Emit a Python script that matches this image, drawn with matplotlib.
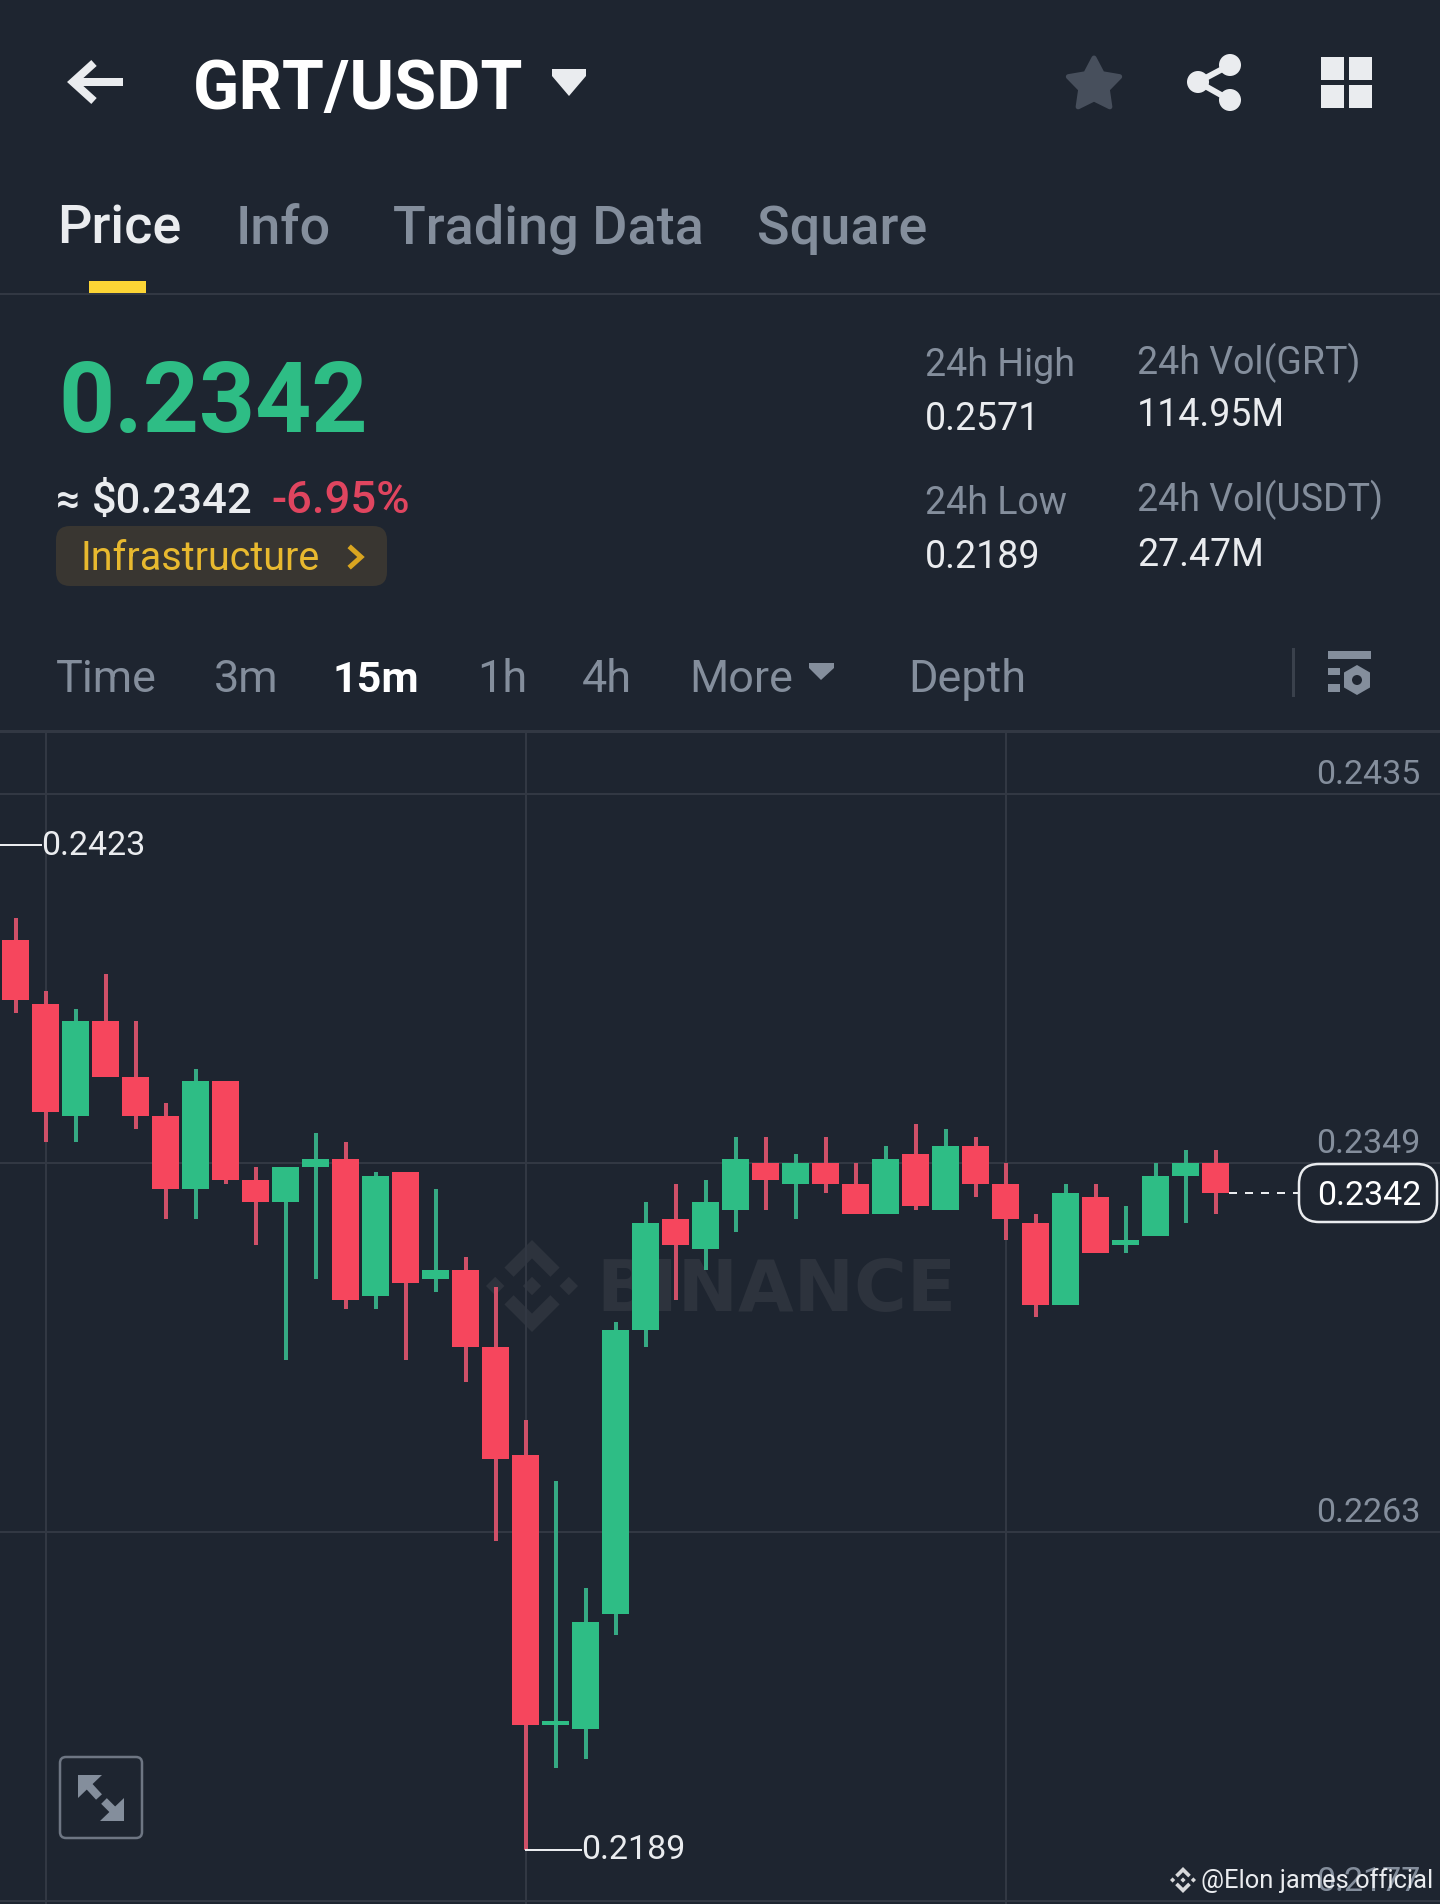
# GRT/USDT 15m candle screen from the exchange app
import math
import matplotlib
matplotlib.use('Agg')
import matplotlib.pyplot as plt
from matplotlib.patches import Circle, FancyBboxPatch, Polygon, Rectangle

# candle data
opens = [0.2401, 0.2386, 0.2360, 0.2382, 0.2369, 0.2360, 0.2343, 0.2368, 0.2345, 0.2340, 0.2348,
         0.2350, 0.2318, 0.2347, 0.2322, 0.2324, 0.2306, 0.2281, 0.2218, 0.2217, 0.2244, 0.2310,
         0.2336, 0.2329, 0.2338, 0.2349, 0.2344, 0.2349, 0.2344, 0.2337, 0.2351, 0.2338, 0.2353,
         0.2344, 0.2335, 0.2316, 0.2341, 0.2330, 0.2332, 0.2346, 0.2349]
closes = [0.2387, 0.2361, 0.2382, 0.2369, 0.2360, 0.2343, 0.2368, 0.2345, 0.2340, 0.2348, 0.2350,
          0.2317, 0.2346, 0.2321, 0.2324, 0.2306, 0.2280, 0.2218, 0.2219, 0.2242, 0.2310, 0.2335,
          0.2330, 0.2340, 0.2350, 0.2345, 0.2349, 0.2344, 0.2337, 0.2350, 0.2339, 0.2353, 0.2344,
          0.2336, 0.2316, 0.2342, 0.2328, 0.2331, 0.2346, 0.2349, 0.2342]
highs = [0.2406, 0.2389, 0.2385, 0.2393, 0.2382, 0.2363, 0.2371, 0.2368, 0.2348, 0.2348, 0.2356,
         0.2354, 0.2347, 0.2347, 0.2343, 0.2327, 0.2320, 0.2289, 0.2275, 0.2250, 0.2312, 0.2340,
         0.2344, 0.2345, 0.2355, 0.2355, 0.2351, 0.2355, 0.2349, 0.2353, 0.2358, 0.2357, 0.2355,
         0.2349, 0.2337, 0.2344, 0.2344, 0.2339, 0.2349, 0.2352, 0.2352]
lows = [0.2384, 0.2354, 0.2354, 0.2369, 0.2357, 0.2336, 0.2336, 0.2344, 0.2330, 0.2303, 0.2322,
        0.2315, 0.2315, 0.2303, 0.2319, 0.2298, 0.2261, 0.2189, 0.2208, 0.2210, 0.2239, 0.2306,
        0.2317, 0.2324, 0.2333, 0.2338, 0.2336, 0.2342, 0.2337, 0.2337, 0.2338, 0.2338, 0.2341,
        0.2331, 0.2313, 0.2316, 0.2328, 0.2328, 0.2332, 0.2335, 0.2337]

price_ticks = [0.2435, 0.2349, 0.2263, 0.2177]
time_ticks = [1, 17, 33]
chart_high = 0.2423
chart_low = 0.2189
chart_low_index = 17
last_price = 0.2342

tabs = ['Price', 'Info', 'Trading Data', 'Square']
intervals = ['Time', '3m', '15m', '1h', '4h', 'More', 'Depth']

BG = '#1e2530'
GRID = '#323843'
GREEN = '#2ebd85'
RED = '#f6465d'
RED_WICK = '#cf5068'
GREEN_WICK = '#36a983'
WHITE = '#eaecef'
GRAY = '#848e9c'
MARK = '#2d333d'

W, H = 1440, 1904
CHART_TOP = 732

plt.rcParams['font.family'] = ['Roboto', 'DejaVu Sans']


def px(size):
    # pixel size to points at 100 dpi
    return size * 0.72


fig = plt.figure(figsize=(W / 100, H / 100), dpi=100, facecolor=BG)

# chart axes, holds the candles
ax = fig.add_axes([0, 0, 1, (H - CHART_TOP) / H], facecolor=BG)
ax.set_xlim(-0.523, 47.477)
ax.set_ylim(0.21763, 0.244945)
for s in ax.spines.values():
    s.set_visible(False)
ax.set_xticks(time_ticks)
ax.set_yticks(price_ticks)
ax.tick_params(length=0, labelleft=False, labelbottom=False)
ax.grid(True, color=GRID, linewidth=px(2))
ax.set_axisbelow(True)

# full figure overlay in pixels for the app chrome
ui = fig.add_axes([0, 0, 1, 1], facecolor='none')
ui.set_xlim(0, W)
ui.set_ylim(H, 0)
ui.axis('off')


def binance_logo(target, cx, cy, r, color, z=1):
    shapes = [
        [(0, -0.2), (0.2, 0), (0, 0.2), (-0.2, 0)],
        [(-1, 0), (-0.8, -0.2), (-0.6, 0), (-0.8, 0.2)],
        [(1, 0), (0.8, -0.2), (0.6, 0), (0.8, 0.2)],
        [(0, -1), (0.6, -0.4), (0.4, -0.2), (0, -0.6), (-0.4, -0.2), (-0.6, -0.4)],
        [(0, 1), (0.6, 0.4), (0.4, 0.2), (0, 0.6), (-0.4, 0.2), (-0.6, 0.4)],
    ]
    for sh in shapes:
        target.add_patch(Polygon([(cx + a * r, cy + b * r) for a, b in sh], closed=True,
                                 fc=color, ec='none', zorder=z))


# big faded watermark sits under the candles
wm = fig.add_axes([0, 0, 1, 1], facecolor='none', zorder=-1)
wm.set_xlim(0, W)
wm.set_ylim(H, 0)
wm.axis('off')
ax.set_zorder(1)
ui.set_zorder(3)
ax.patch.set_alpha(0)
binance_logo(wm, 532, 1286, 46, MARK)
wm.text(596, 1311, 'BINANCE', color=MARK, fontsize=px(72), fontweight='bold', family='DejaVu Sans',
        ha='left', va='baseline')

# candles
xs = list(range(len(opens)))
body_colors = [GREEN if c > o else RED for o, c in zip(opens, closes)]
wick_colors = [GREEN_WICK if c > o else RED_WICK for o, c in zip(opens, closes)]
ax.vlines(xs, lows, highs, colors=wick_colors, linewidth=px(4), capstyle='butt', zorder=2)
ax.bar(xs, [abs(c - o) for o, c in zip(opens, closes)], bottom=[min(o, c) for o, c in zip(opens, closes)],
       width=0.89, color=body_colors, linewidth=0, zorder=3)

# price labels on the right
for p in price_ticks:
    ax.annotate(f'{p:.4f}', (1, p), xycoords=ax.get_yaxis_transform(), xytext=(-20, 19),
                textcoords='offset pixels', ha='right', va='center', color=GRAY, fontsize=px(34), zorder=4)

# high and low callouts
ax.plot([-0.523, 0.85], [chart_high, chart_high], color=WHITE, lw=px(2), zorder=4)
ax.annotate(f'{chart_high:.4f}', (0.85, chart_high), xytext=(0, -1), textcoords='offset pixels',
            ha='left', va='center', color=WHITE, fontsize=px(34), zorder=4)
ax.plot([chart_low_index, chart_low_index + 1.85], [chart_low, chart_low], color=WHITE, lw=px(2), zorder=4)
ax.annotate(f'{chart_low:.4f}', (chart_low_index + 1.85, chart_low), xytext=(0, 0), textcoords='offset pixels',
            ha='left', va='center', color=WHITE, fontsize=px(34), zorder=4)

# last price dash and pill
ax.plot([40.45, 42.75], [last_price, last_price], color=WHITE, lw=px(2), dashes=(4, 4), zorder=4)
ui.add_patch(FancyBboxPatch((1299, 1164), 138, 58, boxstyle='round,pad=0,rounding_size=20',
                            fc=BG, ec=WHITE, lw=px(2.5)))
ui.text(1369, 1196, f'{last_price:.4f}', color='white', fontsize=px(34), ha='center', va='center')

# expand button
ui.add_patch(FancyBboxPatch((60, 1757), 82, 81, boxstyle='round,pad=0,rounding_size=6',
                            fc=BG, ec='#6e7683', lw=px(2.5)))
ui.add_patch(Polygon([(78, 1775), (102, 1775), (78, 1798)], fc=GRAY, ec='none'))
ui.add_patch(Polygon([(124, 1821), (100, 1821), (124, 1798)], fc=GRAY, ec='none'))
ui.plot([88, 99], [1785, 1797], color=GRAY, lw=px(8), solid_capstyle='butt')
ui.plot([104, 115], [1801, 1812], color=GRAY, lw=px(8), solid_capstyle='butt')

# author stamp bottom right
binance_logo(ui, 1183, 1880, 13, '#d8d9db')
ui.text(1201, 1888, '@Elon james official', color=WHITE, fontsize=px(25.5), ha='left', va='baseline')

# header row
ui.plot([123, 74], [82, 82], color=WHITE, lw=px(8), solid_capstyle='butt')
ui.plot([94, 73, 94], [63, 82, 101], color=WHITE, lw=px(8), solid_capstyle='butt', solid_joinstyle='miter')
ui.text(193, 109, 'GRT/USDT', color='white', fontsize=px(68), fontweight='bold', ha='left', va='baseline')
ui.add_patch(Polygon([(552, 69), (586, 69), (586, 76), (569, 96), (552, 76)], fc=WHITE, ec='none'))

# star, share and grid icons
star = []
for k in range(10):
    r = 27 if k % 2 == 0 else 14
    a = -math.pi / 2 + k * math.pi / 5
    star.append((1094 + r * math.cos(a), 85 + r * math.sin(a)))
ui.add_patch(Polygon(star, fc='#474f5c', ec='#474f5c', lw=px(5), joinstyle='round'))

ui.plot([1230, 1198, 1230], [65, 82, 100], color=WHITE, lw=px(6))
for cx, cy in [(1230, 65), (1230, 100), (1198, 82)]:
    ui.add_patch(Circle((cx, cy), 11, fc=WHITE, ec='none'))
for x0 in (1321, 1349):
    for y0 in (57, 85):
        ui.add_patch(Rectangle((x0, y0), 23, 23, fc=WHITE, ec='none'))

# tabs
tab_x = [57, 236, 393, 757]
for i, t in enumerate(tabs):
    ui.text(tab_x[i], 244, t, color=WHITE if i == 0 else GRAY, fontsize=px(54),
            fontweight='medium', ha='left', va='baseline')
ui.add_patch(Rectangle((89, 281), 57, 12, fc='#fcd535', ec='none'))
ui.plot([0, W], [294, 294], color=GRID, lw=px(2))

# price block
ui.text(58, 432, '0.2342', color=GREEN, fontsize=px(98), fontweight='bold', ha='left', va='baseline')
ui.text(56, 513, '≈', color=WHITE, fontsize=px(42), fontweight='medium', ha='left', va='baseline')
ui.text(92, 513, '$0.2342', color=WHITE, fontsize=px(43.5), fontweight='medium', ha='left', va='baseline')
ui.text(271, 513, '-6.95%', color='#e0455f', fontsize=px(45.5), fontweight='medium', ha='left', va='baseline')
ui.add_patch(FancyBboxPatch((56, 526), 331, 60, boxstyle='round,pad=0,rounding_size=14', fc='#393631', ec='none'))
ui.text(80, 570, 'Infrastructure', color='#e8b92f', fontsize=px(39.5), ha='left', va='baseline')
ui.plot([351, 361, 351], [548, 557, 566], color='#d9a520', lw=px(5), solid_joinstyle='miter')

# 24h stats
ui.text(925, 365, '24h High', color=GRAY, fontsize=px(37.5), ha='left', va='center')
ui.text(925, 420, '0.2571', color=WHITE, fontsize=px(37.5), ha='left', va='center')
ui.text(925, 504, '24h Low', color=GRAY, fontsize=px(37.5), ha='left', va='center')
ui.text(925, 558, '0.2189', color=WHITE, fontsize=px(37.5), ha='left', va='center')
ui.text(1137, 363, '24h Vol(GRT)', color=GRAY, fontsize=px(37.5), ha='left', va='center')
ui.text(1137, 416, '114.95M', color=WHITE, fontsize=px(37.5), ha='left', va='center')
ui.text(1137, 500, '24h Vol(USDT)', color=GRAY, fontsize=px(37.5), ha='left', va='center')
ui.text(1137, 555, '27.47M', color=WHITE, fontsize=px(37.5), ha='left', va='center')

# interval row
iv_x = [56, 214, 333, 477, 582, 689, 908]
for i, t in enumerate(intervals):
    on = t == '15m'
    ui.text(iv_x[i], 692, t, color='white' if on else GRAY, fontsize=px(43 if on else 45),
            fontweight='bold' if on else 'normal', ha='left', va='baseline')
ui.add_patch(Polygon([(809, 663), (834, 663), (834, 668), (821, 680), (809, 668)], fc=GRAY, ec='none'))
ui.plot([1293, 1293], [649, 695], color='#3a414c', lw=px(3))

# settings icon
ui.add_patch(Rectangle((1328, 651), 43, 8, fc=GRAY, ec='none'))
ui.add_patch(Rectangle((1328, 668), 12, 7, fc=GRAY, ec='none'))
ui.add_patch(Rectangle((1328, 684), 12, 8, fc=GRAY, ec='none'))
hexagon = [(1357 + 15 * math.sin(k * math.pi / 3), 680 + 15 * math.cos(k * math.pi / 3)) for k in range(6)]
ui.add_patch(Polygon(hexagon, fc=GRAY, ec='none'))
ui.add_patch(Circle((1357, 680), 5, fc=BG, ec='none'))
ui.plot([0, W], [731, 731], color=GRID, lw=px(3))

fig.savefig('out.png', dpi=100, facecolor=BG)
